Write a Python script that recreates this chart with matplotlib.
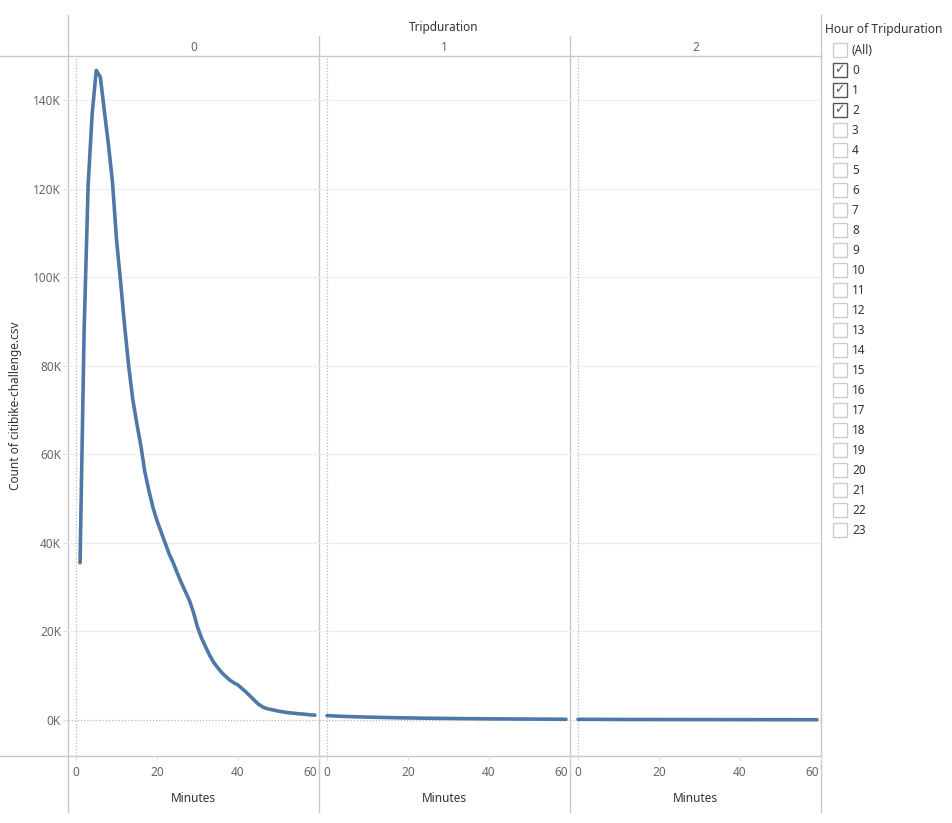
import matplotlib
matplotlib.use("Agg")
import matplotlib.pyplot as plt
from matplotlib.patches import Rectangle
from matplotlib.transforms import ScaledTranslation
from matplotlib.ticker import FuncFormatter

plt.rcParams["font.family"] = ["Noto Sans", "DejaVu Sans"]

# ---- data ----
panels = ["0", "1", "2"]
minutes_0 = list(range(1, 60))
counts_0 = [35500, 88000, 121000, 137000, 146700, 145200, 137500, 130000, 121500, 108500,
            99000, 89000, 80000, 72500, 67000, 62000, 56000, 51800, 48000, 45000,
            42500, 40000, 37500, 35500, 33200, 31000, 29000, 27000, 24300, 21000,
            18500, 16500, 14600, 13000, 11800, 10700, 9800, 9000, 8400, 7900,
            7100, 6300, 5400, 4500, 3600, 3000, 2600, 2400, 2200, 2000,
            1850, 1700, 1600, 1500, 1400, 1350, 1250, 1150, 1100]
minutes_1 = list(range(0, 60))
counts_1 = [1000, 950, 900, 860, 820, 790, 760, 730, 700, 680,
            650, 630, 610, 590, 570, 550, 530, 510, 500, 480,
            470, 450, 440, 420, 410, 400, 390, 380, 370, 360,
            350, 340, 330, 320, 310, 300, 295, 290, 280, 270,
            265, 260, 250, 245, 240, 235, 230, 225, 220, 215,
            210, 205, 200, 195, 190, 185, 180, 175, 170, 165]
minutes_2 = list(range(0, 60))
counts_2 = [160, 155, 150, 146, 142, 138, 135, 132, 129, 126,
            123, 120, 118, 116, 114, 112, 110, 108, 106, 104,
            102, 100, 99, 98, 97, 96, 95, 94, 93, 92,
            91, 90, 89, 88, 87, 86, 85, 84, 83, 82,
            81, 80, 79, 78, 77, 76, 75, 74, 73, 72,
            71, 70, 69, 68, 67, 66, 65, 64, 63, 62]
series = [(minutes_0, counts_0), (minutes_1, counts_1), (minutes_2, counts_2)]

y_ticks = [0, 20000, 40000, 60000, 80000, 100000, 120000, 140000]
x_ticks = [0, 20, 40, 60]
legend_items = ["(All)"] + [str(h) for h in range(24)]
checked = ["0", "1", "2"]

W, H = 952, 823
LINE = "#4e79a7"
SEP = "#c8c8c8"
DARK = "#333333"
GRAY = "#666666"

fig = plt.figure(figsize=(W / 100, H / 100), dpi=100)

# overlay in pixel coordinates for the Tableau-like frame and filter card
ov = fig.add_axes([0, 0, 1, 1], facecolor="none")
ov.set_xlim(0, W)
ov.set_ylim(H, 0)
ov.axis("off")

edges = [68, 319, 570, 821]
top, bottom = 56, 756

# separators and header lines
ov.plot([0, 821], [top, top], color=SEP, lw=1)
ov.plot([0, 821], [bottom, bottom], color=SEP, lw=1)
for i, ex in enumerate(edges):
    y0 = 15 if i in (0, 3) else 36
    ov.plot([ex, ex], [y0, 812], color=SEP, lw=1)

ov.text(444, 27, "Tripduration", ha="center", va="center", fontsize=8.5, color=DARK)
for i, name in enumerate(panels):
    cx = (edges[i] + edges[i + 1]) / 2
    ov.text(cx, 47, name, ha="center", va="center", fontsize=8.5, color=GRAY)
    ov.text(cx, 799, "Minutes", ha="center", va="center", fontsize=8.5, color=DARK)

ov.text(16, (top + bottom) / 2, "Count of citibike-challenge.csv", rotation=90,
        ha="center", va="center", fontsize=8.5, color=DARK)

# filter card
ov.text(825, 29, "Hour of Tripduration", ha="left", va="center", fontsize=8.7,
        color=DARK, fontweight="medium")
for i, lab in enumerate(legend_items):
    cy = 50 + 20 * i
    on = lab in checked
    ov.add_patch(Rectangle((833, cy - 7), 13.5, 13.5, fill=False,
                           ec="#555555" if on else "#cccccc", lw=1))
    if on:
        ov.text(839.7, cy, "\u2713", ha="center", va="center", fontsize=9,
                color="#555555", family="DejaVu Sans")
    ov.text(852, cy, lab, ha="left", va="center", fontsize=8.5, color=DARK)

# ---- the three panels ----
ylim = (-8130, 149940)
xlim = (-1.98, 60.0)
for i, (mins, vals) in enumerate(series):
    left = edges[i] / W
    width = (edges[i + 1] - edges[i]) / W
    ax = fig.add_axes([left, 1 - bottom / H, width, (bottom - top) / H], facecolor="none")
    ax.set_xlim(*xlim)
    ax.set_ylim(*ylim)
    for s in ax.spines.values():
        s.set_visible(False)

    for yt in y_ticks[1:]:
        ax.axhline(yt, color="#efefef", lw=0.9, zorder=0)
    ax.axhline(0, color="#bbbbbb", lw=0.9, ls=(0, (1, 1.5)), zorder=1)
    ax.axvline(0, color="#bbbbbb", lw=0.9, ls=(0, (1, 1.5)), zorder=1)

    ax.plot(mins, vals, color=LINE, lw=2.6, solid_capstyle="round",
            solid_joinstyle="round", zorder=3)

    ax.set_xticks(x_ticks)
    ax.set_xticklabels([str(t) for t in x_ticks])
    ax.tick_params(axis="x", length=3, color="#e0e0e0", pad=4, labelsize=8.5,
                   labelcolor=GRAY)
    last = ax.get_xticklabels()[-1]
    last.set_ha("right")
    last.set_transform(last.get_transform() + ScaledTranslation(-2 / 100, 0, fig.dpi_scale_trans))

    ax.set_yticks(y_ticks)
    if i == 0:
        ax.yaxis.set_major_formatter(FuncFormatter(lambda v, p: f"{int(v / 1000)}K"))
        ax.tick_params(axis="y", length=3.6, color="#e0e0e0", pad=1.5, labelsize=8.5,
                       labelcolor=GRAY)
    else:
        ax.tick_params(axis="y", length=0, labelleft=False)

fig.savefig("out.png", dpi=100)
